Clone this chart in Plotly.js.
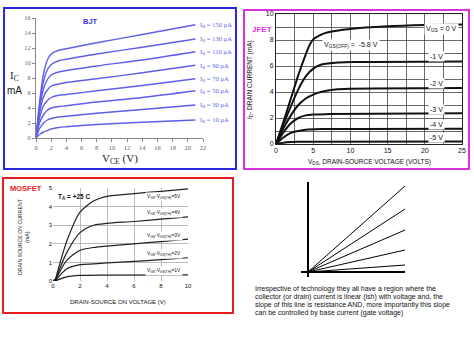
<!DOCTYPE html>
<html><head><meta charset="utf-8">
<script src="https://cdn.plot.ly/plotly-3.0.1.min.js"></script>
<style>html,body{margin:0;padding:0;background:#fff}#c{width:474px;height:353px}</style>
</head><body><div id="c"></div>
<script>
// ---------- BJT data ----------
const bjtV = [0, 0.5, 1, 1.5, 2, 3, 4, 8, 14, 21];
const bjtLabels = ['150', '130', '110', '90', '70', '50', '30', '10'];
const bjtI150 = [0, 5.0, 8.6, 10.4, 11.2, 11.7, 11.9, 12.7, 13.8, 15.1];
const bjtI130 = [0, 4.6, 7.6, 9.1, 9.8, 10.3, 10.5, 11.2, 12.1, 13.2];
const bjtI110 = [0, 4.1, 6.6, 7.8, 8.4, 8.8, 9.0, 9.6, 10.4, 11.5];
const bjtI90  = [0, 3.5, 5.5, 6.4, 6.9, 7.2, 7.4, 7.9, 8.7, 9.7];
const bjtI70  = [0, 2.8, 4.3, 5.0, 5.4, 5.7, 5.8, 6.3, 7.0, 7.9];
const bjtI50  = [0, 2.1, 3.1, 3.7, 4.0, 4.2, 4.3, 4.8, 5.4, 6.3];
const bjtI30  = [0, 1.3, 2.0, 2.4, 2.6, 2.8, 2.9, 3.3, 3.8, 4.4];
const bjtI10  = [0, 0.5, 0.8, 1.0, 1.2, 1.4, 1.5, 1.8, 2.1, 2.4];
const bjtSeries = [bjtI150, bjtI130, bjtI110, bjtI90, bjtI70, bjtI50, bjtI30, bjtI10];

// ---------- JFET data ----------
const jfetLabels = ['V<sub>GS</sub> = 0 V', '-1 V', '-2 V', '-3 V', '-4 V', '-5 V'];
const jfetV0 = [0, 1, 2, 3, 4, 4.5, 5, 6, 7, 10, 15, 20, 25];
const jfetI0 = [0, 1.7, 3.5, 5.3, 6.9, 7.6, 8.05, 8.4, 8.6, 8.85, 9.05, 9.15, 9.2];
const jfetV1 = [0, 1, 2, 3, 4, 5, 6, 8, 10, 25];
const jfetI1 = [0, 1.5, 2.9, 4.2, 5.2, 5.8, 6.1, 6.25, 6.3, 6.35];
const jfetV2 = [0, 1, 2, 3, 4, 5, 6, 8, 10, 25];
const jfetI2 = [0, 1.2, 2.2, 3.0, 3.5, 3.8, 4.0, 4.2, 4.25, 4.3];
const jfetV3 = [0, 1, 2, 3, 4, 5, 7, 25];
const jfetI3 = [0, 0.9, 1.6, 2.0, 2.2, 2.27, 2.3, 2.37];
const jfetV4 = [0, 1, 2, 3, 4, 6, 25];
const jfetI4 = [0, 0.5, 0.85, 1.0, 1.1, 1.15, 1.18];
const jfetV5 = [0, 1, 2, 3, 25];
const jfetI5 = [0, 0.1, 0.15, 0.17, 0.2];

// ---------- MOSFET data ----------
const mosV5 = [0.15, 1, 2, 3, 4, 6, 8, 10];
const mosI5 = [0, 2.1, 3.7, 4.3, 4.55, 4.7, 4.82, 4.95];
const mosV4 = [0.15, 1, 2, 3, 4, 6, 8, 10];
const mosI4 = [0, 1.5, 2.6, 3.0, 3.1, 3.2, 3.33, 3.45];
const mosV3 = [0.15, 1, 2, 3, 4, 6, 8, 10];
const mosI3 = [0, 1.1, 1.65, 1.8, 1.88, 2.0, 2.12, 2.25];
const mosV2 = [0.15, 1, 2, 3, 4, 6, 8, 10];
const mosI2 = [0, 0.65, 0.88, 0.92, 0.97, 1.05, 1.15, 1.25];
const mosV1 = [0.15, 1, 2, 4, 10];
const mosI1 = [0, 0.22, 0.3, 0.32, 0.33];
const mosLabelsV = ['5V', '4V', '3V', '2V', '1V'];

// ---------- Linear-region sketch ----------
const linX = [0, 10];
const linEnds = [8.6, 6.3, 4.2, 2.2, 0.7];
const paragraph = [
  'Irrespective of technology they all have a region where the',
  'collector (or drain) current is linear (ish) with voltage and, the',
  'slope of this line is resistance AND, more importantly this slope',
  'can be controlled by base current (gate voltage)'
];

const W = 474, H = 353;
const X = p => p / W, Y = p => 1 - p / H;
const dx = (a, b) => [X(a), X(b)];
const dy = (top, bot) => [Y(bot), Y(top)];

const traces = [];
const bjtColor = 'rgb(95,95,235)';
bjtSeries.forEach(s => traces.push({x: bjtV, y: s, xaxis: 'x', yaxis: 'y', mode: 'lines',
  line: {color: bjtColor, width: 1.4, shape: 'spline', smoothing: 0.8}, hoverinfo: 'skip'}));

[[jfetV0, jfetI0], [jfetV1, jfetI1], [jfetV2, jfetI2], [jfetV3, jfetI3], [jfetV4, jfetI4], [jfetV5, jfetI5]]
  .forEach(([v, i]) => traces.push({x: v, y: i, xaxis: 'x2', yaxis: 'y2', mode: 'lines',
    line: {color: '#111', width: 2, shape: 'spline', smoothing: 0.7}, hoverinfo: 'skip'}));

[[mosV5, mosI5], [mosV4, mosI4], [mosV3, mosI3], [mosV2, mosI2], [mosV1, mosI1]]
  .forEach(([v, i]) => traces.push({x: v, y: i, xaxis: 'x3', yaxis: 'y3', mode: 'lines',
    line: {color: '#222', width: 1.2, shape: 'spline', smoothing: 0.7}, hoverinfo: 'skip'}));
traces.push({x: [mosV1[0]], y: [0], xaxis: 'x3', yaxis: 'y3', mode: 'markers',
  marker: {color: '#000', size: 4}, hoverinfo: 'skip'});

linEnds.forEach(e => traces.push({x: linX, y: [0, e], xaxis: 'x4', yaxis: 'y4', mode: 'lines',
  line: {color: '#000', width: 1}, hoverinfo: 'skip'}));

const ann = [];
const A = (px, py, text, o) => ann.push(Object.assign({xref: 'paper', yref: 'paper', x: X(px), y: Y(py),
  text, showarrow: false, xanchor: 'left', yanchor: 'middle'}, o || {}));

// BJT labels
const bjtLabelY = [25, 39, 52, 66, 79, 91, 105, 120];
bjtLabels.forEach((l, k) => A(198, bjtLabelY[k], 'I<sub>B</sub> = ' + l + ' µA',
  {font: {family: 'Liberation Serif', size: 6.5, color: bjtColor}}));
A(81, 22, 'BJT', {font: {family: 'Liberation Sans', size: 7.5, color: 'rgb(50,50,230)', weight: 'bold'}});
A(8, 76, 'I<sub>C</sub>', {font: {family: 'Liberation Serif', size: 11, color: '#222'}});
A(5, 90, 'mA', {font: {family: 'Liberation Sans', size: 10, color: '#222'}});
A(120, 159, 'V<sub>CE</sub> (V)', {xanchor: 'center', font: {family: 'Liberation Serif', size: 11, color: '#222'}});

// JFET labels
const jf = {family: 'Liberation Sans', size: 7, color: '#111'};
A(424, 29, jfetLabels[0], {font: jf, bgcolor: '#fff'});
A(428, 57, jfetLabels[1], {font: jf, bgcolor: '#fff'});
A(428, 83, jfetLabels[2], {font: jf, bgcolor: '#fff'});
A(428, 109, jfetLabels[3], {font: jf, bgcolor: '#fff'});
A(428, 124, jfetLabels[4], {font: jf, bgcolor: '#fff'});
A(428, 137, jfetLabels[5], {font: jf, bgcolor: '#fff'});
A(322, 45, 'V<sub>GS(OFF)</sub> =  -5.8 V', {font: jf, bgcolor: '#fff'});
A(250, 30, 'JFET', {font: {family: 'Liberation Sans', size: 8, color: 'rgb(220,50,220)', weight: 'bold'}});
A(250, 80, 'I<sub>D</sub>- DRAIN CURRENT (mA)', {xanchor: 'center', textangle: -90, font: {family: 'Liberation Sans', size: 6.5, color: '#111'}});
A(369, 162, 'V<sub>DS</sub>, DRAIN-SOURCE VOLTAGE (VOLTS)', {xanchor: 'center', font: {family: 'Liberation Sans', size: 6.5, color: '#111'}});

// MOSFET labels
const mf = {family: 'Liberation Sans', size: 4.8, color: '#111'};
const mosLabelY = [197, 213, 236, 254, 271];
mosLabelsV.forEach((v, k) => A(145, mosLabelY[k], 'V<sub>GS</sub>-V<sub>GS(TH)</sub>=' + v, {font: mf, bgcolor: '#fff'}));
A(56, 197, 'T<sub>A</sub> = +25 C', {font: {family: 'Liberation Sans', size: 6.5, color: '#111', weight: 'bold'}});
A(8, 188, 'MOSFET', {font: {family: 'Liberation Sans', size: 7.5, color: 'rgb(230,30,30)', weight: 'bold'}});
A(23, 237, 'DRAIN SOURCE ON CURRENT<br>(mA)', {xanchor: 'center', textangle: -90, font: {family: 'Liberation Sans', size: 5.2, color: '#111'}});
A(118, 302, 'DRAIN-SOURCE ON VOLTAGE (V)', {xanchor: 'center', font: {family: 'Liberation Sans', size: 6, color: '#111'}});

// paragraph, one annotation per line
const parY = [289, 297, 305, 313];
paragraph.forEach((t, k) => A(253, parY[k], t, {font: {family: 'Liberation Sans', size: 7, color: '#111'}}));

const shapes = [
  {type: 'rect', xref: 'paper', yref: 'paper', x0: X(4), x1: X(236), y0: Y(169), y1: Y(8), line: {color: 'rgb(40,40,220)', width: 2}},
  {type: 'rect', xref: 'paper', yref: 'paper', x0: X(244), x1: X(469), y0: Y(169), y1: Y(10), line: {color: 'rgb(220,50,220)', width: 2}},
  {type: 'rect', xref: 'paper', yref: 'paper', x0: X(3), x1: X(233), y0: Y(313), y1: Y(178), line: {color: 'rgb(230,30,30)', width: 2}}
];

const bjtTick = {family: 'Liberation Serif', size: 6.5, color: '#666'};
const layout = {
  width: W, height: H, margin: {l: 0, r: 0, t: 0, b: 0}, showlegend: false,
  paper_bgcolor: '#fff', plot_bgcolor: 'rgba(0,0,0,0)',
  xaxis: {domain: dx(36, 203), range: [0, 22], dtick: 2, showgrid: false, zeroline: false,
    showline: true, linecolor: '#888', linewidth: 1, ticks: 'outside', ticklen: 3, tickcolor: '#888', tickfont: bjtTick, anchor: 'y'},
  yaxis: {domain: dy(18, 138), range: [0, 16], dtick: 2, showgrid: false, zeroline: false,
    showline: true, linecolor: '#888', linewidth: 1, ticks: 'outside', ticklen: 3, tickcolor: '#888', tickfont: bjtTick, anchor: 'x'},
  xaxis2: {domain: dx(276, 462), range: [0, 25], dtick: 5, showgrid: true, gridcolor: '#444', gridwidth: 0.8,
    minor: {dtick: 2.5, showgrid: true, gridcolor: '#444', gridwidth: 0.8}, zeroline: false,
    showline: true, mirror: true, linecolor: '#222', linewidth: 1, tickfont: {family: 'Liberation Sans', size: 7, color: '#111'}, anchor: 'y2'},
  yaxis2: {domain: dy(14, 144), range: [0, 10], dtick: 2, showgrid: true, gridcolor: '#444', gridwidth: 0.8,
    minor: {dtick: 1, showgrid: true, gridcolor: '#444', gridwidth: 0.8}, zeroline: false,
    showline: true, mirror: true, linecolor: '#222', linewidth: 1, tickfont: {family: 'Liberation Sans', size: 7, color: '#111'}, anchor: 'x2'},
  xaxis3: {domain: dx(53, 188), range: [0, 10], dtick: 2, showgrid: true, gridcolor: '#aaa', gridwidth: 0.8, zeroline: false,
    showline: false, tickfont: {family: 'Liberation Sans', size: 6, color: '#111'}, anchor: 'y3'},
  yaxis3: {domain: dy(188, 281), range: [0, 5], dtick: 1, showgrid: true, gridcolor: '#aaa', gridwidth: 0.8, zeroline: false,
    showline: false, tickfont: {family: 'Liberation Sans', size: 6, color: '#111'}, anchor: 'x3'},
  xaxis4: {domain: dx(301, 405), range: [-0.72, 10], showgrid: false, showticklabels: false, ticks: '',
    zeroline: true, zerolinecolor: '#000', zerolinewidth: 2, anchor: 'y4'},
  yaxis4: {domain: dy(182, 277), range: [-0.5, 9.0], showgrid: false, showticklabels: false, ticks: '',
    zeroline: true, zerolinecolor: '#000', zerolinewidth: 2, anchor: 'x4'},
  annotations: ann, shapes: shapes
};
Plotly.newPlot('c', traces, layout, {displayModeBar: false, staticPlot: true});
</script></body></html>
